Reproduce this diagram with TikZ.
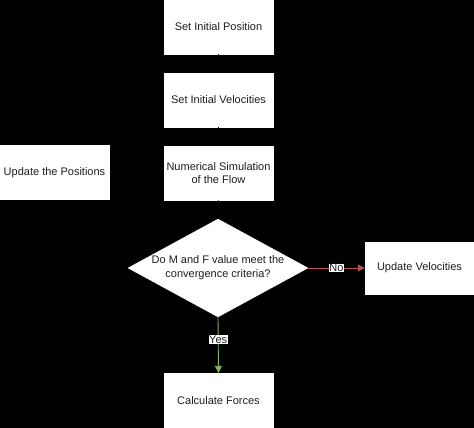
\documentclass[tikz,border=0pt]{standalone}
\usepackage{fontspec}
\setmainfont{Liberation Sans}
\usetikzlibrary{shapes.geometric,arrows.meta}
\definecolor{noRed}{RGB}{184,84,80}
\definecolor{yesGreen}{RGB}{130,179,102}
\definecolor{txt}{RGB}{30,30,30}
\begin{document}
\begin{tikzpicture}[x=1pt,y=-1pt,
  box/.style={draw=white,fill=white,minimum width=109pt,minimum height=54pt,inner sep=0pt,align=center,font=\fontsize{11}{13}\selectfont,text=txt},
  dia/.style={diamond,draw=white,fill=white,minimum width=180pt,minimum height=98pt,aspect=1.84,inner sep=0pt,align=center,font=\fontsize{11}{14}\selectfont,text=txt},
  blk/.style={draw=black,-{Stealth[length=6pt,width=6pt]}},
  lbl/.style={fill=white,inner sep=0.6pt,font=\fontsize{11}{12}\selectfont,text=txt}]
\fill[black] (0,0) rectangle (474,428);
\useasboundingbox (0,0) rectangle (474,428);
\node[box] (pos) at (218.5,27) {Set Initial Position};
\node[box] (vel) at (218.5,100) {Set Initial Velocities};
\node[box] (sim) at (218.5,173) {Numerical Simulation\\of the Flow};
\node[box] (upd) at (54.5,172.5) {Update the Positions};
\node[dia] (conv) at (218,268) {Do M and F value meet the\\convergence criteria?};
\node[box,minimum height=52pt] (uvel) at (419.5,268) {Update Velocities};
\node[box,minimum height=55pt] (force) at (218.5,400.5) {Calculate Forces};
\draw[blk] (pos) -- (vel);
\draw[blk] (vel) -- (sim);
\draw[blk] (sim) -- (conv);
\draw[draw=noRed,line width=0.9pt,-{Triangle[length=7pt,width=7pt]}] (conv.east) -- node[lbl,pos=0.5]{No} (uvel.west);
\draw[draw=yesGreen,line width=0.9pt,-{Triangle[length=7pt,width=7pt]}] (conv.south) -- node[lbl,pos=0.4]{Yes} (force.north);
\end{tikzpicture}
\end{document}
